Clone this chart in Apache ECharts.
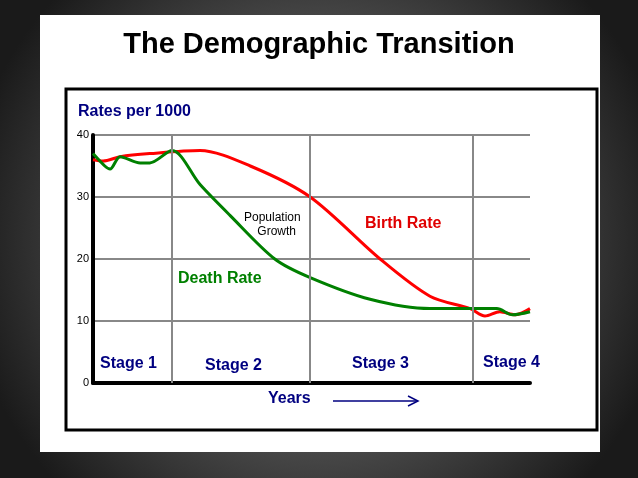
<!DOCTYPE html><html><head><meta charset="utf-8">
<script src="https://cdn.jsdelivr.net/npm/echarts@6/dist/echarts.min.js"></script>
<style>html,body{margin:0;padding:0}#c{width:638px;height:478px}</style></head><body><div id="c"></div>
<script>
const birthX=[0,2.3,6.2,13,24.5,36,49.7,65.7,77.1,86.3,89.7,93.1,96.6,100];
const birthY=[36,35.8,36.5,37,37.5,35,30,20,14,12,10.8,11.5,11,12];
const deathX=[0,2.7,3.9,6.2,10.8,13,18.1,24.5,31.4,41.6,49.7,63.4,77.1,86.3,92.4,96,100];
const deathY=[37,35,34.5,36.5,35.5,35.5,37.5,32,27,20,17,13.5,12,12,12,11,11.5];
const stageBounds=[18.1,49.7,87];
const yTicks=[0,10,20,30,40];
const chart=echarts.init(document.getElementById('c'));
const F='Liberation Sans';
chart.setOption({
 animation:false,
 backgroundColor:{type:'radial',x:0.5,y:0.5,r:0.75,colorStops:[{offset:0,color:'#8a8a8a'},{offset:1,color:'#1a1a1a'}]},
 graphic:[
  {type:'rect',z:-10,shape:{x:40,y:15,width:560,height:437},style:{fill:'#fff'}},
  {type:'rect',z:-9,shape:{x:66,y:89,width:531,height:341},style:{fill:'#fff',stroke:'#000',lineWidth:3}},
  {type:'text',left:'center',top:30,style:{text:'The Demographic Transition',font:'bold 29px "Liberation Sans"',fill:'#000'}},
  {type:'text',left:78,top:104,style:{text:'Rates per 1000',font:'bold 16px "Liberation Sans"',fill:'#000080'}},
  {type:'text',left:100,top:356,style:{text:'Stage 1',font:'bold 16px "Liberation Sans"',fill:'#000080'}},
  {type:'text',left:205,top:358,style:{text:'Stage 2',font:'bold 16px "Liberation Sans"',fill:'#000080'}},
  {type:'text',left:352,top:356,style:{text:'Stage 3',font:'bold 16px "Liberation Sans"',fill:'#000080'}},
  {type:'text',left:483,top:355,style:{text:'Stage 4',font:'bold 16px "Liberation Sans"',fill:'#000080'}},
  {type:'text',left:268,top:391,style:{text:'Years',font:'bold 16px "Liberation Sans"',fill:'#000080'}},
  {type:'line',shape:{x1:333,y1:401,x2:418,y2:401},style:{stroke:'#000080',lineWidth:1.5}},
  {type:'polyline',shape:{points:[[408,396],[418,401],[408,406]]},style:{stroke:'#000080',fill:null,lineWidth:1.5}},
  {type:'text',left:365,top:216,style:{text:'Birth Rate',font:'bold 16px "Liberation Sans"',fill:'#e00000'}},
  {type:'text',left:178,top:271,style:{text:'Death Rate',font:'bold 16px "Liberation Sans"',fill:'#008000'}},
  {type:'text',left:244,top:211,style:{text:'Population\n    Growth',font:'12px "Liberation Sans"',fill:'#000',lineHeight:14}}
 ],
 grid:{left:93,right:108,top:135,bottom:95},
 xAxis:{type:'value',min:0,max:100,axisLabel:{show:false},axisTick:{show:false},splitLine:{show:false},axisLine:{lineStyle:{color:'#000',width:4}}},
 yAxis:{type:'value',min:0,max:40,interval:10,axisLabel:{color:'#000',fontSize:11,fontFamily:F,margin:4},axisTick:{show:false},
   axisLine:{show:true,lineStyle:{color:'#000',width:4}},splitLine:{lineStyle:{color:'#888',width:2}}},
 series:[
  {type:'line',data:birthX.map((x,i)=>[x,birthY[i]]),smooth:0.3,symbol:'none',lineStyle:{color:'#ff0000',width:3},z:3,
   markLine:{silent:true,symbol:'none',label:{show:false},lineStyle:{color:'#888',width:2,type:'solid'},data:stageBounds.map(v=>({xAxis:v}))}},
  {type:'line',data:deathX.map((x,i)=>[x,deathY[i]]),smooth:0.3,symbol:'none',lineStyle:{color:'#008000',width:3},z:4}
 ]
});
</script></body></html>
